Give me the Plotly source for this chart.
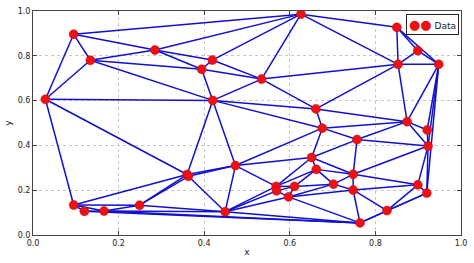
import plotly.graph_objects as go

# Data points
xs = [0.029, 0.095, 0.134, 0.285, 0.394, 0.419, 0.420, 0.534, 0.626, 0.850,
      0.899, 0.853, 0.948, 0.661, 0.676, 0.874, 0.921, 0.757, 0.923, 0.651,
      0.662, 0.748, 0.702, 0.748, 0.899, 0.920, 0.827, 0.764, 0.360, 0.363,
      0.473, 0.449, 0.568, 0.569, 0.611, 0.597, 0.095, 0.120, 0.166, 0.249]
ys = [0.606, 0.896, 0.780, 0.826, 0.740, 0.781, 0.601, 0.696, 0.986, 0.927,
      0.823, 0.762, 0.762, 0.563, 0.477, 0.506, 0.469, 0.426, 0.397, 0.346,
      0.293, 0.271, 0.227, 0.201, 0.224, 0.187, 0.109, 0.054, 0.270, 0.262,
      0.310, 0.104, 0.217, 0.197, 0.217, 0.170, 0.134, 0.106, 0.107, 0.133]

x_ticks = [0.0, 0.2, 0.4, 0.6, 0.8, 1.0]
y_ticks = [0.0, 0.2, 0.4, 0.6, 0.8, 1.0]


def circum(p, a, b, c):
    ax, ay = p[a]; bx, by = p[b]; cx, cy = p[c]
    d = 2 * (ax * (by - cy) + bx * (cy - ay) + cx * (ay - by))
    ux = ((ax*ax + ay*ay) * (by - cy) + (bx*bx + by*by) * (cy - ay) + (cx*cx + cy*cy) * (ay - by)) / d
    uy = ((ax*ax + ay*ay) * (cx - bx) + (bx*bx + by*by) * (ax - cx) + (cx*cx + cy*cy) * (bx - ax)) / d
    return ux, uy, (ax - ux) ** 2 + (ay - uy) ** 2


def delaunay(px, py):
    n = len(px)
    p = list(zip(px, py))
    M = 1e4
    p += [(-M, -M), (M, -M), (0.5, M)]
    tris = [(n, n + 1, n + 2)]
    cc = {tris[0]: circum(p, n, n + 1, n + 2)}
    for i in range(n):
        x, y = p[i]
        bad = [t for t in tris if (x - cc[t][0]) ** 2 + (y - cc[t][1]) ** 2 < cc[t][2]]
        cnt = {}
        for t in bad:
            for e in ((t[0], t[1]), (t[1], t[2]), (t[2], t[0])):
                k = tuple(sorted(e))
                cnt[k] = cnt.get(k, 0) + 1
        for t in bad:
            tris.remove(t)
            del cc[t]
        for e, c in cnt.items():
            if c == 1:
                t = (e[0], e[1], i)
                tris.append(t)
                cc[t] = circum(p, *t)
    edges = set()
    for t in tris:
        if max(t) >= n:
            continue
        for e in ((t[0], t[1]), (t[1], t[2]), (t[2], t[0])):
            edges.add(tuple(sorted(e)))
    return sorted(edges)


edges = delaunay(xs, ys)
ex, ey = [], []
for a, b in edges:
    ex += [xs[a], xs[b], None]
    ey += [ys[a], ys[b], None]

fig = go.Figure()
fig.add_trace(go.Scatter(x=ex, y=ey, mode="lines",
                         line=dict(color="#1010d0", width=1.5),
                         showlegend=False, hoverinfo="skip"))
fig.add_trace(go.Scatter(x=xs, y=ys, mode="markers", name="Data",
                         marker=dict(color="#ee1111", size=9,
                                     line=dict(color="#cc0000", width=0.5)),
                         showlegend=False))

axis_common = dict(range=[0, 1], showline=True, mirror="ticks", linecolor="#444",
                   linewidth=1, ticks="inside", ticklen=4, tickcolor="#444",
                   showgrid=True, gridcolor="#c8c8c8", griddash="dot", gridwidth=1,
                   zeroline=False, tickfont=dict(family="DejaVu Sans", size=8, color="#222"),
                   tickformat=".1f")
fig.update_xaxes(**axis_common, tickvals=x_ticks,
                 title=dict(text="x", font=dict(family="DejaVu Sans", size=9, color="#222"), standoff=2))
fig.update_yaxes(**axis_common, tickvals=y_ticks,
                 title=dict(text="y", font=dict(family="DejaVu Sans", size=9, color="#222"), standoff=4))

fig.add_annotation(xref="paper", yref="paper", x=0.995, y=0.985, xanchor="right", yanchor="top",
                   text="<span style='color:#ee1111;font-size:13px'>●●</span> Data",
                   showarrow=False, font=dict(family="DejaVu Sans", size=9, color="#222"),
                   bgcolor="white", bordercolor="#222", borderwidth=1, borderpad=2)

fig.update_layout(width=474, height=263, margin=dict(l=27, r=10, t=7, b=23),
                  plot_bgcolor="white", paper_bgcolor="white")

fig.write_html("out.html")
